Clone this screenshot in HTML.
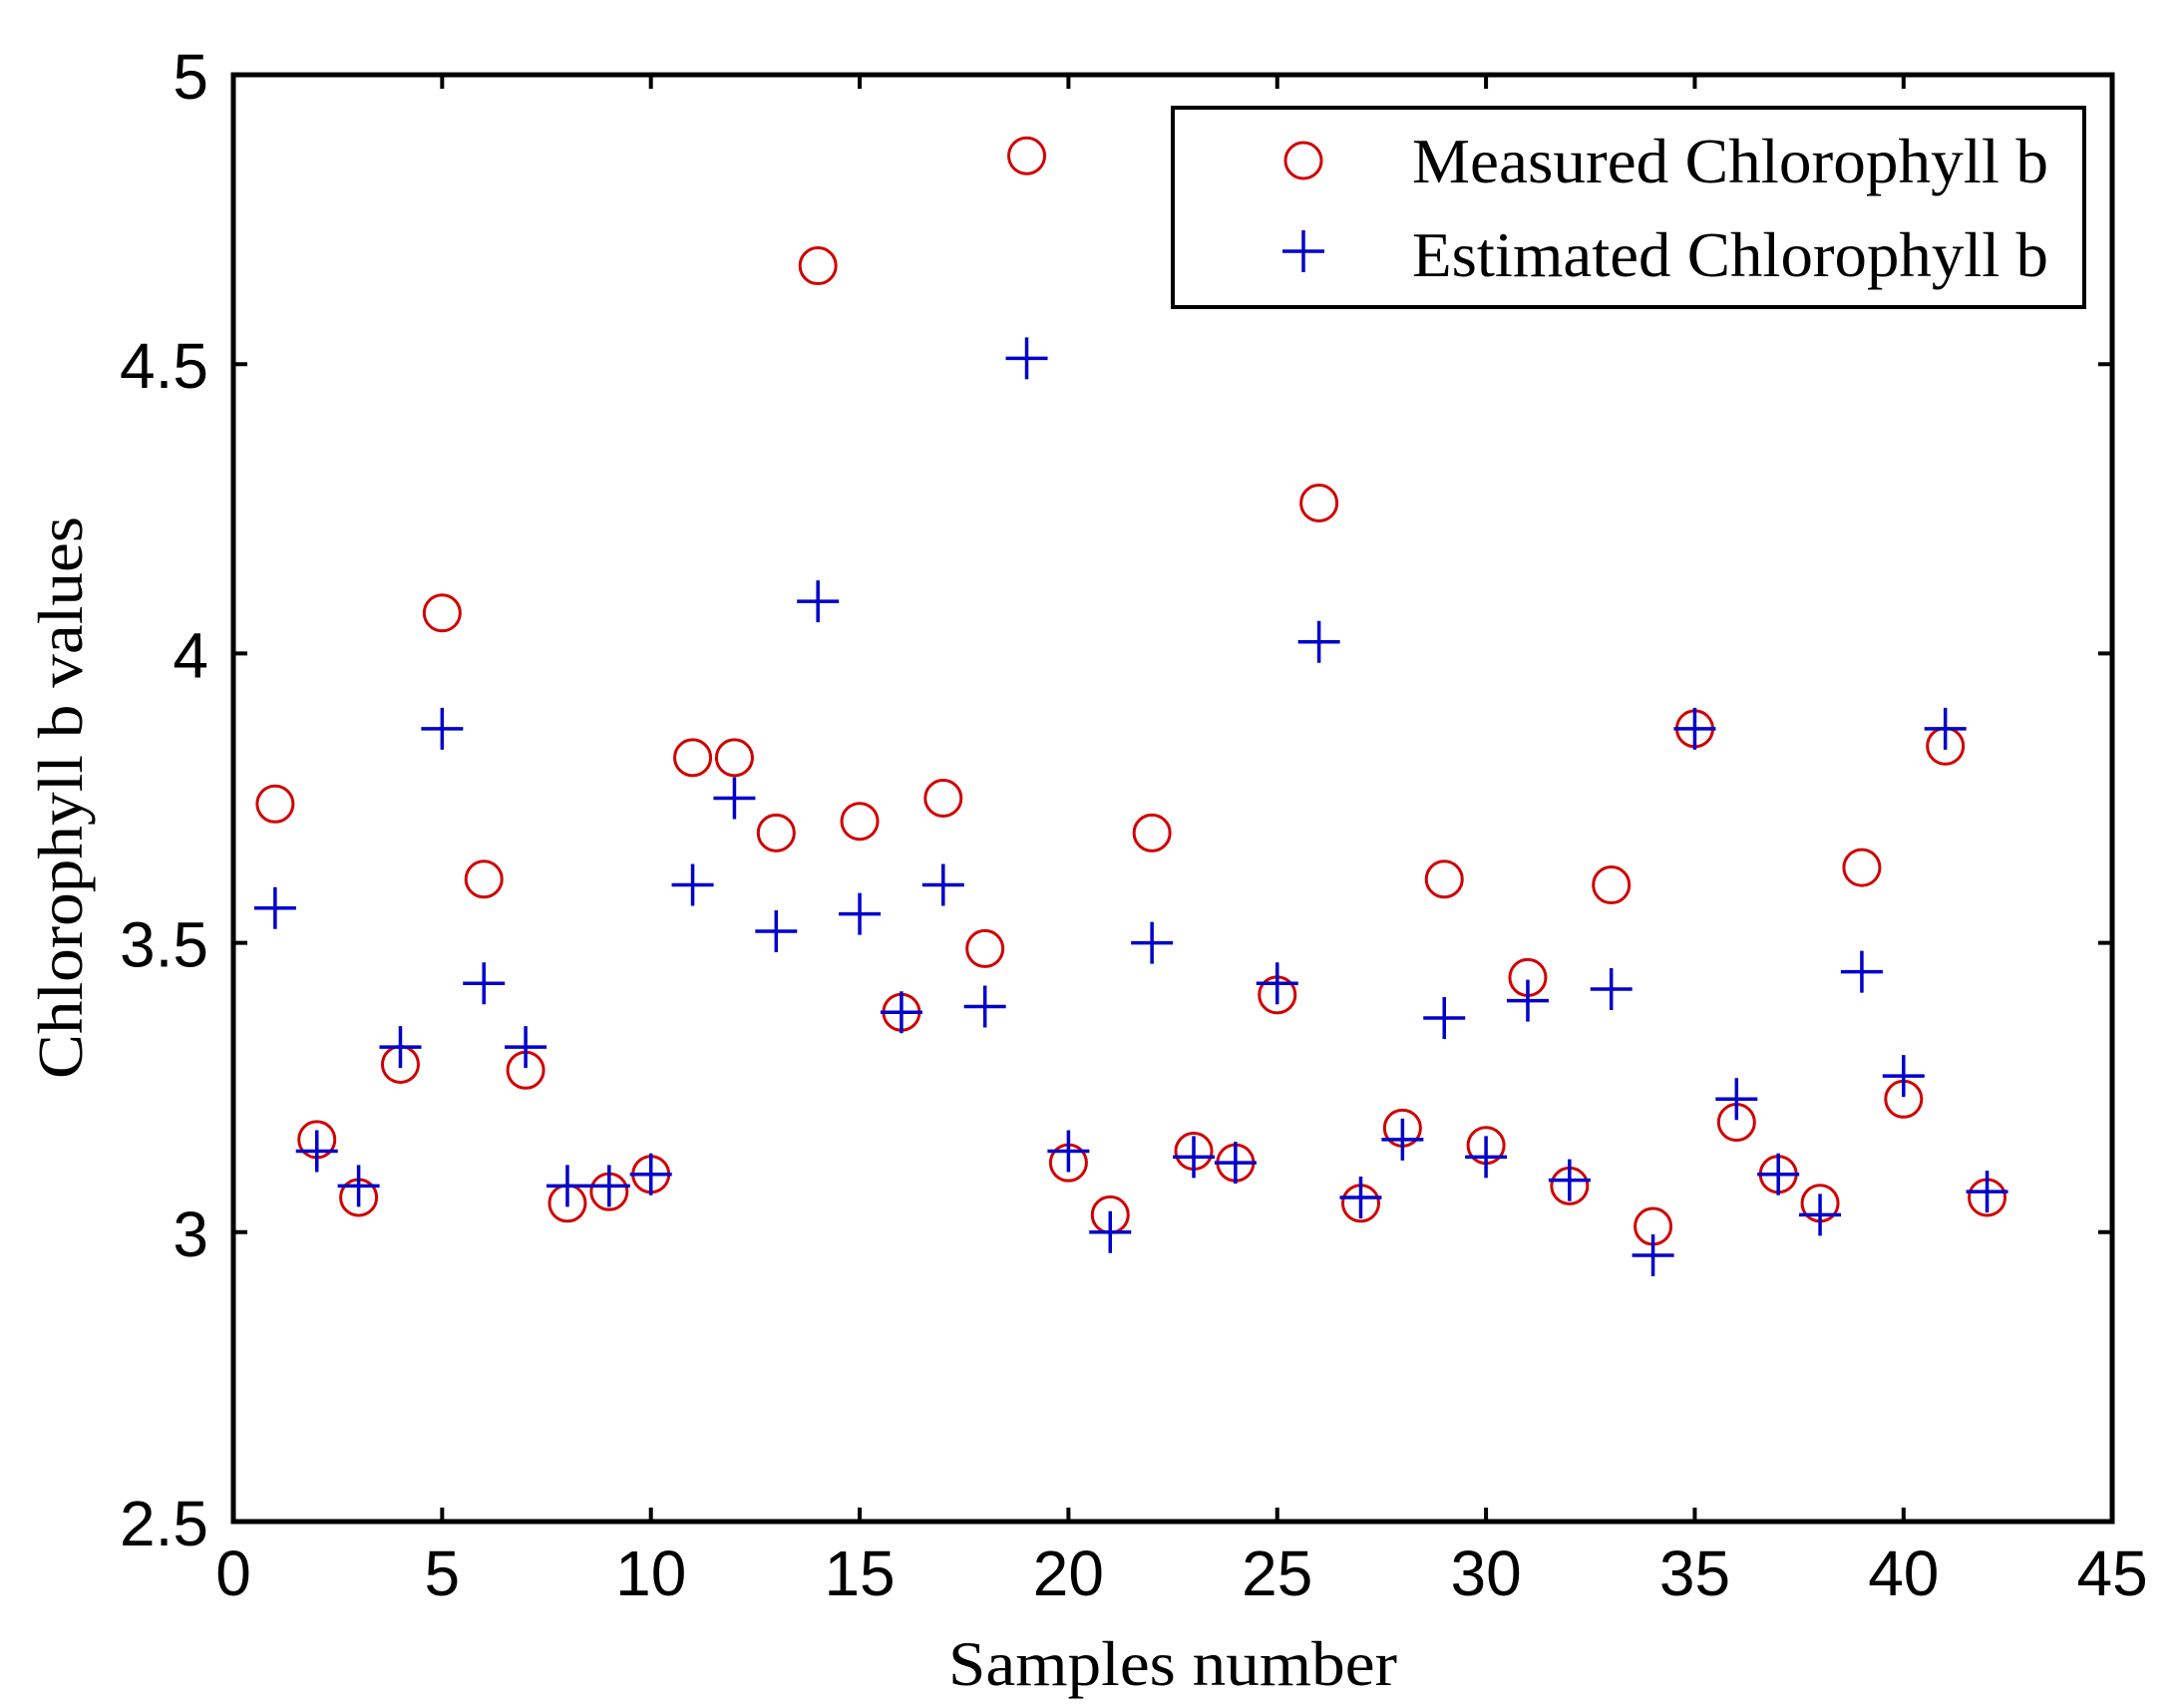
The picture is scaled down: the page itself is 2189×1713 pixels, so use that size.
<!DOCTYPE html>
<html><head><meta charset="utf-8"><style>html,body{margin:0;padding:0;background:#fff}svg{display:block}</style></head>
<body>
<svg id="s" width="2189" height="1713" viewBox="0 0 2189 1713" xmlns="http://www.w3.org/2000/svg">
<rect width="2189" height="1713" fill="#fff"/>
<g id="ticks" stroke="#000" stroke-width="4"></g>
<g id="pts"></g>
<rect x="234" y="75" width="1884" height="1451" fill="none" stroke="#000" stroke-width="5"/>
<g font-family="Liberation Sans, sans-serif" font-size="64" fill="#000" id="lab"></g>
<text x="1176" y="1690" font-family="Liberation Serif, serif" font-size="64" text-anchor="middle" textLength="450" lengthAdjust="spacingAndGlyphs">Samples number</text>
<text transform="translate(82,800) rotate(-90)" font-family="Liberation Serif, serif" font-size="64" text-anchor="middle" textLength="564" lengthAdjust="spacingAndGlyphs">Chlorophyll b values</text>
<rect x="1176" y="108" width="914" height="200" fill="#fff" stroke="#000" stroke-width="4"/>
<circle cx="1307" cy="161" r="18" fill="none" stroke="#d00000" stroke-width="3"/>
<path d="M1286 252h42M1307 231v42" stroke="#0000cc" stroke-width="3.5"/>
<text x="1416" y="183" font-family="Liberation Serif, serif" font-size="64" textLength="638" lengthAdjust="spacingAndGlyphs">Measured Chlorophyll b</text>
<text x="1416" y="277" font-family="Liberation Serif, serif" font-size="64" textLength="638" lengthAdjust="spacingAndGlyphs">Estimated Chlorophyll b</text>
</svg>
<script>
const X=n=>234+n*41.87, Y=v=>75+(5-v)*580.4, ns="http://www.w3.org/2000/svg";
const m=[3.74,3.16,3.06,3.29,4.07,3.61,3.28,3.05,3.07,3.10,3.82,3.82,3.69,4.67,3.71,3.38,3.75,3.49,4.86,3.12,3.03,3.69,3.14,3.12,3.41,4.26,3.05,3.18,3.61,3.15,3.44,3.08,3.60,3.01,3.87,3.19,3.10,3.05,3.63,3.23,3.84,3.06];
const e=[3.56,3.14,3.08,3.32,3.87,3.43,3.32,3.08,3.08,3.10,3.60,3.75,3.52,4.09,3.55,3.38,3.60,3.39,4.51,3.14,3.00,3.50,3.13,3.12,3.43,4.02,3.06,3.16,3.37,3.13,3.40,3.09,3.42,2.96,3.87,3.23,3.10,3.03,3.45,3.27,3.87,3.07];
let h='';
m.forEach((v,i)=>{h+=`<circle cx="${X(i+1)}" cy="${Y(v)}" r="18" fill="none" stroke="#d00000" stroke-width="3"/>`;});
e.forEach((v,i)=>{const x=X(i+1),y=Y(v);h+=`<path d="M${x-21} ${y}h42M${x} ${y-21}v42" stroke="#0000cc" stroke-width="3.5"/>`;});
document.getElementById('pts').innerHTML=h;
let t='',l='';
for(let n=0;n<=45;n+=5){const x=X(n);t+=`<path d="M${x} 1526v-14M${x} 75v14"/>`;l+=`<text x="${x}" y="1600" text-anchor="middle">${n}</text>`;}
for(let v=2.5;v<=5.001;v+=0.5){const y=Y(v);t+=`<path d="M234 ${y}h14M2118 ${y}h-14"/>`;l+=`<text x="209" y="${y+24}" text-anchor="end">${v}</text>`;}
document.getElementById('ticks').innerHTML=t;document.getElementById('lab').innerHTML=l;
</script>
</body></html>
